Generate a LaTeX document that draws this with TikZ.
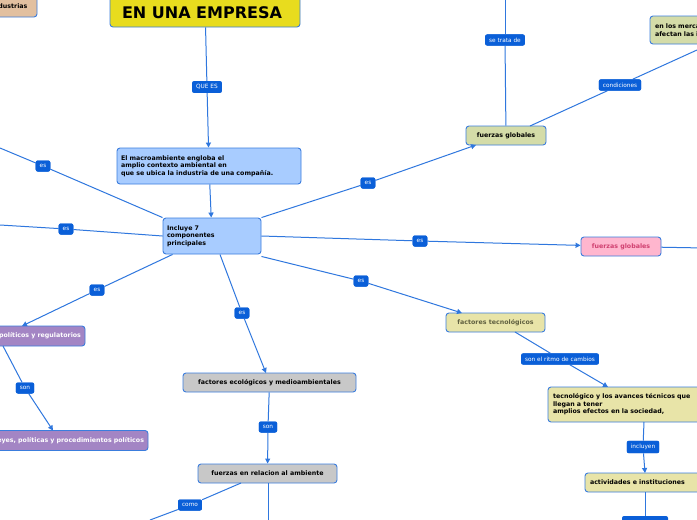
\documentclass[tikz,border=0pt]{standalone}
\usepackage{fontspec}
\setmainfont{DejaVu Sans}
\usetikzlibrary{arrows.meta}
\definecolor{lblue}{HTML}{0A5FD8}
\definecolor{bord}{HTML}{3B7DDD}
\definecolor{cblue}{HTML}{A8CCFF}
\definecolor{cyel}{HTML}{E8DC1E}
\definecolor{ctan}{HTML}{E2C0A0}
\definecolor{cpur}{HTML}{A385C4}
\definecolor{cgrey}{HTML}{C8C8C8}
\definecolor{cgreen}{HTML}{D4DCA8}
\definecolor{cpink}{HTML}{FFB6CE}
\definecolor{cpinkt}{HTML}{D04070}
\definecolor{ckhaki}{HTML}{E8E4A8}
\definecolor{ckhakit}{HTML}{606040}
\tikzset{
 box/.style={draw=bord,line width=0.9pt,rounded corners=3pt,font=\bfseries\fontsize{6.3}{7.5}\selectfont,inner sep=0pt,align=left},
 lab/.style={fill=lblue,rounded corners=2pt,text=white,font=\fontsize{5.8}{7}\selectfont,inner xsep=4pt,minimum height=11pt},
 conn/.style={draw=lblue!85!white,line width=1pt},
 arr/.style={conn,-{Triangle[length=5pt,width=5pt]}}
}
\begin{document}
\begin{tikzpicture}[x=1pt,y=-1pt]
\useasboundingbox (0,0) rectangle (697,520);
\clip (0,0) rectangle (697,520);
\fill[white] (0,0) rectangle (697,520);
% nodes
\node[box,fill=cyel,minimum width=190pt,minimum height=44pt,font=\bfseries\fontsize{16}{18}\selectfont,text depth=0pt] (title) at (205,5) {};
\node[font=\bfseries\fontsize{16}{18}\selectfont] at (202,13) {EN UNA EMPRESA};
\node[box,fill=ctan,minimum width=100pt,minimum height=30pt] (ind) at (-13,2) {};
\node[font=\bfseries\fontsize{6.3}{7.5}\selectfont,anchor=east] at (31,6) {industrias};
\node[box,fill=cblue,minimum width=184pt,minimum height=36pt,text width=176pt] (macro) at (209,166) {El macroambiente engloba el\\amplio contexto ambiental en\\que se ubica la industria de una compañía.};
\node[box,fill=cblue,minimum width=98pt,minimum height=36pt,text width=90pt] (inc) at (212,236) {Incluye 7\\componentes\\principales};
\node[box,fill=cpur,minimum width=200pt,minimum height=20pt,text=white,align=right,text width=192pt] (pol) at (-15,336) {factores políticos y regulatorios};
\node[box,fill=cpur,minimum width=240pt,minimum height=20pt,text=white,align=right,text width=232pt] (leyes) at (28,440.5) {leyes, políticas y procedimientos políticos};
\node[box,fill=cgrey,minimum width=173pt,minimum height=19pt,align=center] (eco) at (269.5,382.5) {factores ecológicos y medioambientales};
\node[box,fill=cgrey,minimum width=139pt,minimum height=19pt,align=center] (amb) at (267.5,473.5) {fuerzas en relacion al ambiente};
\node[box,fill=cgreen,minimum width=80pt,minimum height=19pt,align=center] (fg1) at (506,135.5) {fuerzas globales};
\node[box,fill=cgreen,minimum width=120pt,minimum height=28pt,text width=110pt] (mer) at (710,30) {en los mercados que\\afectan las industrias};
\node[box,fill=cpink,minimum width=80pt,minimum height=19pt,align=center,text=cpinkt] (fg2) at (621,246.5) {fuerzas globales};
\node[box,fill=ckhaki,minimum width=99pt,minimum height=19pt,align=center,text=ckhakit] (tec) at (495.5,322.5) {factores tecnológicos};
\node[box,fill=ckhaki,minimum width=200pt,minimum height=35pt,text width=190pt] (tav) at (648,404.5) {tecnológico y los avances técnicos que\\llegan a tener\\ amplios efectos en la sociedad,};
\node[box,fill=ckhaki,minimum width=160pt,minimum height=19pt,text width=150pt] (act) at (665,482.5) {actividades e instituciones};
\coordinate (eL1) at (0,148);
\coordinate (eL2) at (0,225);
\coordinate (eTop) at (505,-5);
\coordinate (eR) at (705,248);
\coordinate (eB1) at (150,520);
\coordinate (eB2) at (268,525);
\coordinate (eB3) at (645,525);
% labels
\node[lab] (l1) at (207,87) {QUE ES};
\node[lab] (l2) at (43,166) {es};
\node[lab] (l3) at (66,229) {es};
\node[lab] (l4) at (97,290) {es};
\node[lab] (l5) at (25,388) {son};
\node[lab] (l6) at (242,313) {es};
\node[lab] (l7) at (268,427) {son};
\node[lab] (l8) at (190,505) {como};
\node[lab] (l9) at (368,183) {es};
\node[lab] (l10) at (505,40) {se trata de};
\node[lab] (l11) at (620,85) {condiciones};
\node[lab] (l12) at (420,241) {es};
\node[lab] (l13) at (361,281) {es};
\node[lab] (l14) at (560,359) {son el ritmo de cambios};
\node[lab] (l15) at (643,447) {incluyen};
\node[lab,minimum width=46pt,minimum height=12pt] (l16) at (645,522) {};
% connectors
\begin{scope}[on background layer/.style={}]
\end{scope}
\draw[conn] (title) -- (l1); \draw[arr] (l1) -- (macro);
\draw[arr] (macro) -- (inc);
\draw[conn] (inc.north west) -- (l2); \draw[conn] (l2) -- (eL1);
\draw[conn] (inc.west) -- (l3); \draw[conn] (l3) -- (eL2);
\draw[conn] ([xshift=10pt]inc.south west) -- (l4); \draw[arr] (l4) -- (22,326);
\draw[conn] (3,346) -- (l5); \draw[arr] (l5) -- (53,430.5);
\draw[conn] ([xshift=8pt]inc.south) -- (l6); \draw[arr] (l6) -- (266,373);
\draw[conn] (eco) -- (l7); \draw[arr] (l7) -- (amb);
\draw[conn] (241,483) -- (l8); \draw[conn] (l8) -- (eB1);
\draw[conn] (268,483) -- (eB2);
\draw[conn] (inc.north east) -- (l9); \draw[arr] (l9) -- (476,145);
\draw[conn] (fg1) -- (l10); \draw[conn] (l10) -- (eTop);
\draw[conn] (530,126) -- (l11); \draw[conn] (l11) -- (697,50);
\draw[conn] (inc.east) -- (l12); \draw[arr] (l12) -- (fg2);
\draw[conn] (fg2) -- (eR);
\draw[conn] ([yshift=-2pt]inc.south east) -- (l13); \draw[arr] (l13) -- (462,313);
\draw[conn] (515,332) -- (l14); \draw[arr] (l14) -- (608,387);
\draw[conn] (644,422) -- (l15); \draw[arr] (l15) -- (645,473);
\draw[conn] (645,492) -- (l16);
% redraw labels on top
\foreach \n/\t in {l1/QUE ES,l2/es,l3/es,l4/es,l5/son,l6/es,l7/son,l8/como,l9/es,l10/se trata de,l11/condiciones,l12/es,l13/es,l14/son el ritmo de cambios,l15/incluyen}
 {\node[lab] at (\n) {\t};}
\end{tikzpicture}
\end{document}
